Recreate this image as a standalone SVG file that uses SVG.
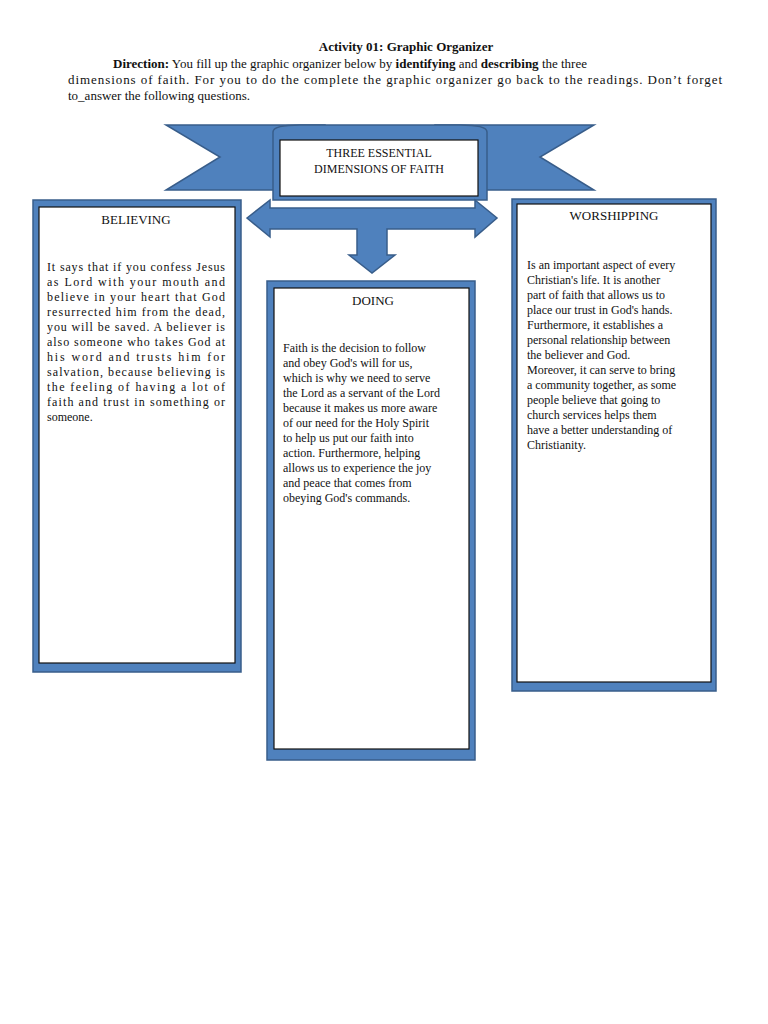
<svg xmlns="http://www.w3.org/2000/svg" width="768" height="1024" viewBox="0 0 768 1024">
<style>
text{font-family:"Liberation Serif",serif;font-size:12px;fill:#111}
.h{font-size:13px}
.blue{fill:#4f81bd;stroke:#385d8a;stroke-width:1.5}
.outer{fill:#4f81bd;stroke:#385d8a;stroke-width:1.5}
.inner{fill:#fff;stroke:#111;stroke-width:1.2}
</style>
<rect width="768" height="1024" fill="#fff"/>
<text x="406" y="51" text-anchor="middle" font-weight="bold" class="h">Activity 01: Graphic Organizer</text>
<text x="113" y="68" class="h"><tspan font-weight="bold">Direction:</tspan> You fill up the graphic organizer below by <tspan font-weight="bold">identifying</tspan> and <tspan font-weight="bold">describing</tspan> the three</text>
<text x="68" y="84" class="h" textLength="654" lengthAdjust="spacing">dimensions of faith. For you to do the complete the graphic organizer go back to the readings. Don’t forget</text>
<text x="68" y="100" class="h">to_answer the following questions.</text>
<g id="banner">
<polygon class="blue" points="166,125 325,125 325,190 166,190 220,157"/>
<polygon class="blue" points="594,125 435,125 435,190 594,190 540,157"/>
<path class="blue" d="M273,132 Q273,125 300,125 L460,125 Q487,125 487,132 L487,200 L273,200 Z"/>
<rect class="inner" x="280" y="140" width="198" height="56"/>
<text x="379" y="157" text-anchor="middle">THREE ESSENTIAL</text>
<text x="379" y="173" text-anchor="middle">DIMENSIONS OF FAITH</text>
</g>
<g id="connectors">
<polygon class="blue" points="247,218 270,200 270,208 475,208 475,200 497,218 475,237 475,229 387,229 387,255 395,255 372,273 349,255 357,255 357,229 270,229 270,237"/>
</g>
<g id="believing">
<rect class="outer" x="33" y="200" width="208" height="472"/>
<rect class="inner" x="39" y="207" width="196" height="456"/>
<text x="136" y="224" text-anchor="middle" class="h">BELIEVING</text>
<g>
<text x="47" y="271" textLength="178" lengthAdjust="spacing">It says that if you confess Jesus</text>
<text x="47" y="286" textLength="178" lengthAdjust="spacing">as Lord with your mouth and</text>
<text x="47" y="301" textLength="178" lengthAdjust="spacing">believe in your heart that God</text>
<text x="47" y="316" textLength="178" lengthAdjust="spacing">resurrected him from the dead,</text>
<text x="47" y="331" textLength="178" lengthAdjust="spacing">you will be saved. A believer is</text>
<text x="47" y="346" textLength="178" lengthAdjust="spacing">also someone who takes God at</text>
<text x="47" y="361" textLength="178" lengthAdjust="spacing">his word and trusts him for</text>
<text x="47" y="376" textLength="178" lengthAdjust="spacing">salvation, because believing is</text>
<text x="47" y="391" textLength="178" lengthAdjust="spacing">the feeling of having a lot of</text>
<text x="47" y="406" textLength="178" lengthAdjust="spacing">faith and trust in something or</text>
<text x="47" y="421">someone.</text>
</g>
</g>
<g id="doing">
<rect class="outer" x="267" y="281" width="208" height="479"/>
<rect class="inner" x="274" y="288" width="195" height="461"/>
<text x="373" y="305" text-anchor="middle" class="h">DOING</text>
<text x="283" y="352">Faith is the decision to follow</text>
<text x="283" y="367">and obey God's will for us,</text>
<text x="283" y="382">which is why we need to serve</text>
<text x="283" y="397">the Lord as a servant of the Lord</text>
<text x="283" y="412">because it makes us more aware</text>
<text x="283" y="427">of our need for the Holy Spirit</text>
<text x="283" y="442">to help us put our faith into</text>
<text x="283" y="457">action. Furthermore, helping</text>
<text x="283" y="472">allows us to experience the joy</text>
<text x="283" y="487">and peace that comes from</text>
<text x="283" y="502">obeying God's commands.</text>
</g>
<g id="worshipping">
<rect class="outer" x="512" y="199" width="204" height="492"/>
<rect class="inner" x="517" y="204" width="194" height="478"/>
<text x="614" y="220" text-anchor="middle" class="h">WORSHIPPING</text>
<text x="527" y="269">Is an important aspect of every</text>
<text x="527" y="284">Christian's life. It is another</text>
<text x="527" y="299">part of faith that allows us to</text>
<text x="527" y="314">place our trust in God's hands.</text>
<text x="527" y="329">Furthermore, it establishes a</text>
<text x="527" y="344">personal relationship between</text>
<text x="527" y="359">the believer and God.</text>
<text x="527" y="374">Moreover, it can serve to bring</text>
<text x="527" y="389">a community together, as some</text>
<text x="527" y="404">people believe that going to</text>
<text x="527" y="419">church services helps them</text>
<text x="527" y="434">have a better understanding of</text>
<text x="527" y="449">Christianity.</text>
</g>
</svg>
